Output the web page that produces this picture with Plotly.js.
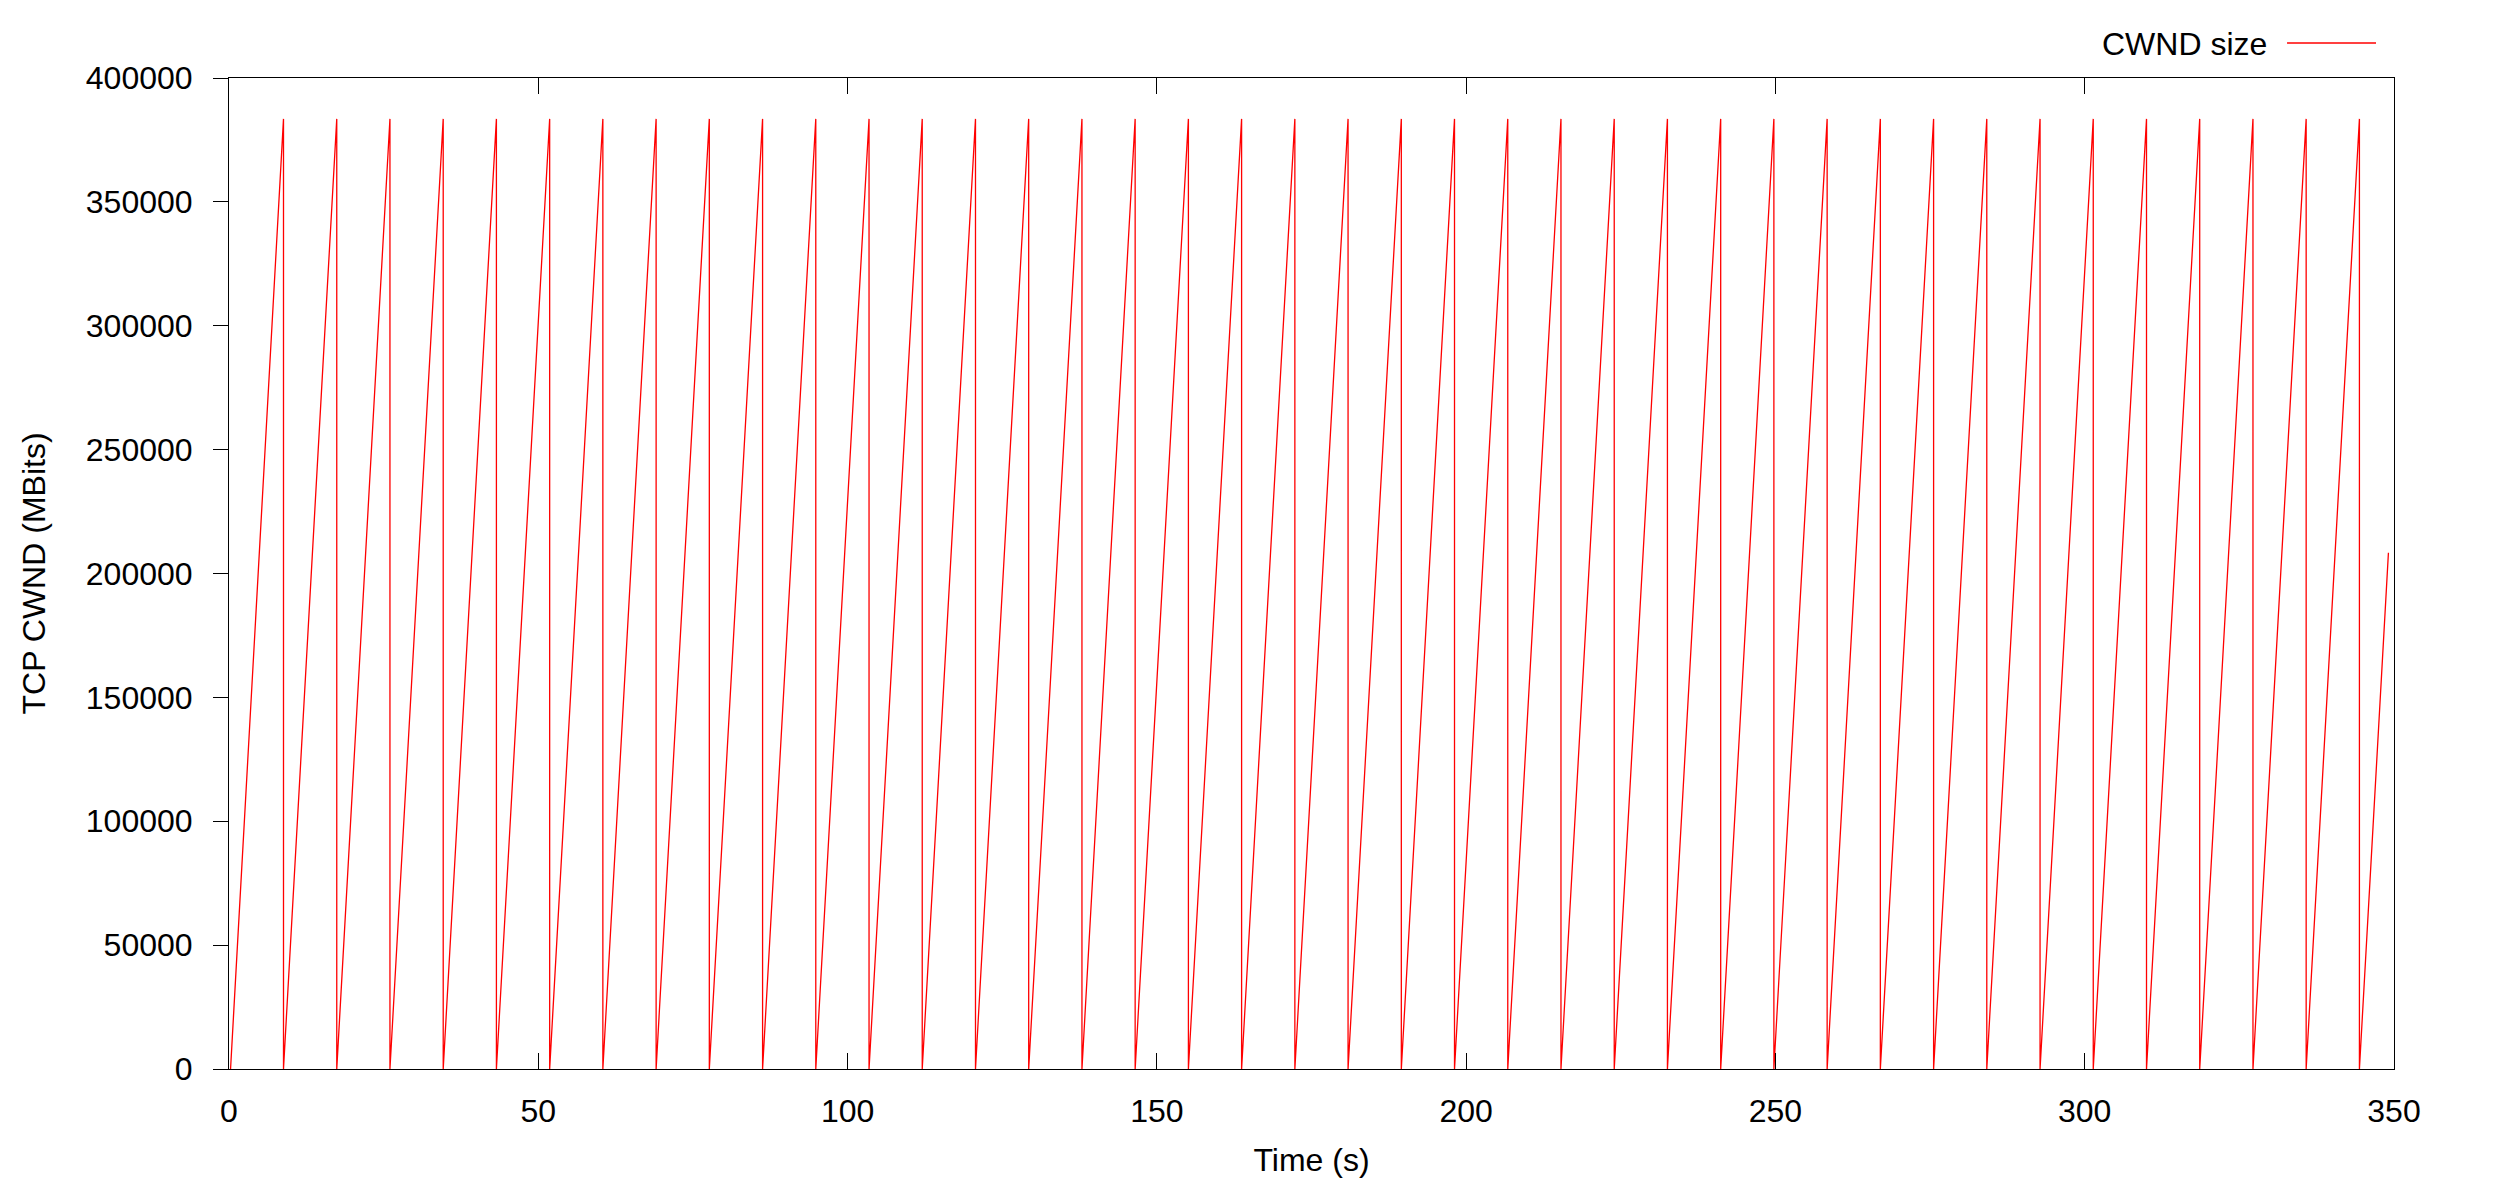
<!DOCTYPE html>
<html>
<head>
<meta charset="utf-8">
<script src="https://cdn.plot.ly/plotly-3.0.1.min.js"></script>
<style>
  body { margin: 0; background: #fff; }
  #graph { width: 2500px; height: 1200px; }
</style>
</head>
<body>
<div id="graph"></div>
<script>
// times (s) where the window collapses back to zero
var dropTimes = [
    8.81, 17.42, 26.02, 34.63, 43.23, 51.84, 60.44, 69.05, 77.65, 86.26,
    94.86, 103.47, 112.07, 120.68, 129.28, 137.89, 146.49, 155.10, 163.70, 172.31,
    180.91, 189.52, 198.12, 206.73, 215.33, 223.94, 232.54, 241.15, 249.75, 258.36,
    266.96, 275.57, 284.17, 292.78, 301.38, 309.99, 318.59, 327.20, 335.80, 344.41
]
var peakValue = 383500
var startTime = 0.25
var lastTime = 349.1
var lastValue = 208400

var xTicks = [0, 50, 100, 150, 200, 250, 300, 350]
var yTicks = [0, 50000, 100000, 150000, 200000, 250000, 300000, 350000, 400000]

var FONT = '"Liberation Sans", Arial, sans-serif'

function buildTrace() {
    var xs = [startTime], ys = [0]
    for (var i = 0; i < dropTimes.length; i++) {
        xs.push(dropTimes[i]); ys.push(peakValue)
        xs.push(dropTimes[i]); ys.push(0)
    }
    xs.push(lastTime); ys.push(lastValue)
    return {
        x: xs,
        y: ys,
        name: 'CWND size',
        mode: 'lines',
        type: 'scatter',
        line: {color: '#ff0000', width: 1.3},
        showlegend: false
    }
}

function main() {
    var layout = {
        width: 2500,
        height: 1200,
        margin: {l: 229, r: 106, t: 78, b: 131},
        paper_bgcolor: '#ffffff',
        plot_bgcolor: '#ffffff',
        font: {family: FONT, size: 32, color: '#000000'},
        showlegend: false,
        xaxis: {
            range: [0, 350],
            tickvals: xTicks,
            ticks: 'inside',
            ticklen: 16,
            tickwidth: 1,
            tickcolor: '#000',
            showline: true,
            linecolor: '#000',
            linewidth: 1,
            mirror: 'ticks',
            showgrid: false,
            zeroline: false,
            ticklabelstandoff: 14,
            title: {text: 'Time (s)', font: {family: FONT, size: 32}, standoff: 20}
        },
        yaxis: {
            range: [0, 400000],
            tickvals: yTicks,
            tickformat: 'd',
            ticks: 'outside',
            ticklen: 15,
            tickwidth: 1,
            tickcolor: '#000',
            showline: true,
            linecolor: '#000',
            linewidth: 1,
            mirror: true,
            showgrid: false,
            zeroline: false,
            ticklabelstandoff: 14,
            title: {text: 'TCP CWND (MBits)', font: {family: FONT, size: 32}, standoff: 30}
        },
        annotations: [{
            text: 'CWND size',
            xref: 'paper', yref: 'paper',
            x: 0.9423, y: 1.0343,
            xanchor: 'right', yanchor: 'middle',
            showarrow: false,
            font: {family: FONT, size: 32, color: '#000'}
        }],
        shapes: [{
            type: 'line',
            xref: 'paper', yref: 'paper',
            x0: 0.9506, x1: 0.9917, y0: 1.0353, y1: 1.0353,
            line: {color: '#ff0000', width: 1.3}
        }]
    }
    Plotly.newPlot('graph', [buildTrace()], layout, {displayModeBar: false, staticPlot: true})
}

main()
</script>
</body>
</html>
